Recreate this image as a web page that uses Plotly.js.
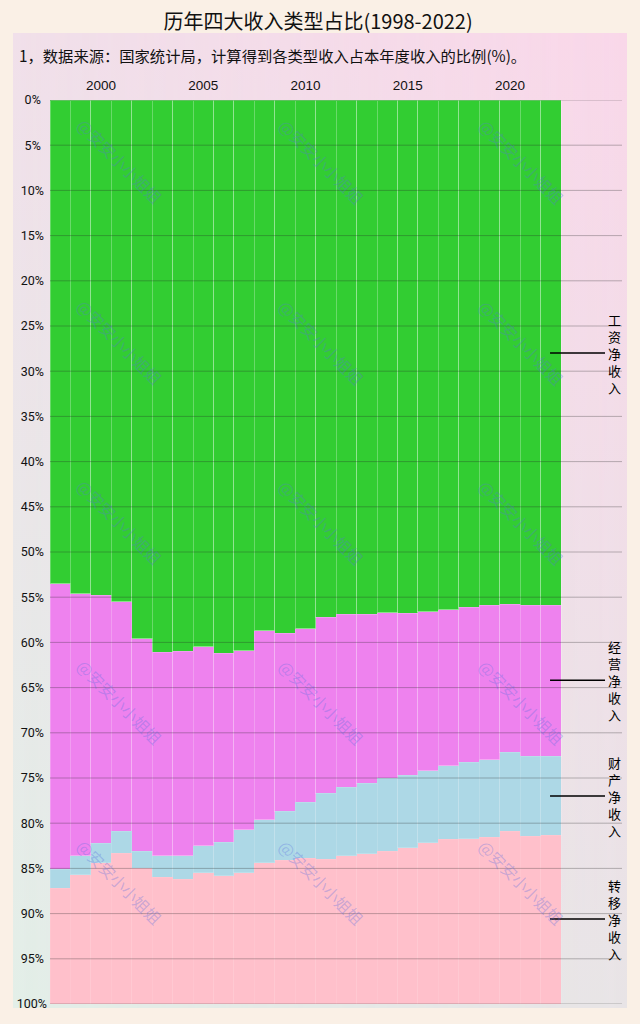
<!DOCTYPE html>
<html><head><meta charset="utf-8">
<script src="https://cdn.plot.ly/plotly-3.0.1.min.js"></script>
<style>
html,body{margin:0;padding:0;width:640px;height:1024px;overflow:hidden;background:#faf0e6;}
#p1,#p2{position:absolute;left:13px;top:33px;width:614px;height:975px;}
#p1{background:linear-gradient(to bottom,#f1e0ea,#e3efe8);}
#p2{background:linear-gradient(to bottom,#f9d7e9,#e8e4e6);-webkit-mask-image:linear-gradient(to right,transparent,#000);mask-image:linear-gradient(to right,transparent,#000);}
#chart{position:absolute;left:0;top:0;width:640px;height:1024px;}
</style></head><body>
<div id="p1"></div><div id="p2"></div><div id="chart"></div>
<script>
var years=[1998,1999,2000,2001,2002,2003,2004,2005,2006,2007,2008,2009,2010,2011,2012,2013,2014,2015,2016,2017,2018,2019,2020,2021,2022];
var wage=[53.5,54.6,54.8,55.5,59.6,61.1,61.0,60.5,61.2,60.9,58.7,59.0,58.5,57.2,56.9,56.9,56.7,56.8,56.6,56.4,56.1,55.9,55.8,55.9,55.9];
var business=[31.6,29.0,27.4,25.4,23.5,22.5,22.6,22.0,20.9,19.85,20.9,19.7,19.2,19.5,19.1,18.7,18.3,17.9,17.6,17.25,17.15,17.1,16.35,16.7,16.7];
var property=[2.1,2.1,2.2,2.4,1.9,2.4,2.6,3.0,3.7,4.75,4.8,5.4,6.2,7.3,7.6,7.8,8.1,8.0,7.95,8.15,8.45,8.55,8.75,8.85,8.75];
var transfer=[12.8,14.3,15.6,16.7,15.0,14.0,13.8,14.5,14.2,14.5,15.6,15.9,16.1,16.0,16.4,16.6,16.9,17.3,17.85,18.2,18.3,18.45,19.1,18.55,18.65];
var seriesNames=['工资净收入','经营净收入','财产净收入','转移净收入'];
var seriesColors=['#32cd32','#ee82ee','#add8e6','#ffc0cb'];
var edgeColors=['rgba(255,255,255,0.27)','rgba(255,255,255,0.22)','rgba(255,255,255,0.14)','rgba(255,255,255,0.08)'];
var seriesValues=[wage,business,property,transfer];
var yTicks=[0,5,10,15,20,25,30,35,40,45,50,55,60,65,70,75,80,85,90,95,100];
var xTicks=[2000,2005,2010,2015,2020];
var labelY=[28,64.2,77,90.6];
var title='历年四大收入类型占比(1998-2022)';
var note='1，数据来源：国家统计局，计算得到各类型收入占本年度收入的比例(%)。';
var mark='@安安小小姐姐';
var markX=[2000.92,2010.76,2020.54];
var markY=[6.8,26.8,46.7,66.6,86.5];

var CJK='"Noto Sans CJK SC","Noto Sans",sans-serif';
var pad=function(v){return v<10?'\u00a0\u00a0':(v<100?'\u00a0':'');};
var traces=seriesNames.map(function(n,i){return {
  type:'bar',name:n,x:years,y:seriesValues[i],width:1,
  marker:{color:seriesColors[i],line:{color:edgeColors[i],width:1}},
  hoverinfo:'skip'
};});
var shapes=yTicks.map(function(v){return {type:'line',layer:'above',xref:'x',yref:'y',x0:1997.5,x1:2025.48,y0:v,y1:v,
  line:{color:'rgba(40,40,40,0.3)',width:1}};});
var ann=[];
markY.forEach(function(my){markX.forEach(function(mx){
  ann.push({xref:'x',yref:'y',x:mx,y:my,text:mark,showarrow:false,textangle:45,
    font:{family:CJK,size:16,color:'rgba(90,110,225,0.33)'}});
});});
seriesNames.forEach(function(n,i){
  shapes.push({type:'line',layer:'above',xref:'x',yref:'y',x0:2021.96,x1:2024.65,y0:labelY[i],y1:labelY[i],line:{color:'#000',width:1.5}});
  ann.push({xref:'x',yref:'y',x:2025.09,y:labelY[i],xanchor:'center',yanchor:'middle',showarrow:false,
    text:n.split('').join('<br>'),
    font:{family:CJK,size:13,color:'#000'}});
});
ann.push({xref:'paper',yref:'paper',x:-0.0542,y:1.0498,xanchor:'left',yanchor:'middle',xshift:-2,showarrow:false,text:note,
  font:{family:CJK,size:15.3,color:'#111'}});
var layout={
  width:640,height:1024,margin:{l:50,r:18,t:100,b:20,pad:0},
  paper_bgcolor:'rgba(0,0,0,0)',plot_bgcolor:'rgba(0,0,0,0)',
  barmode:'stack',bargap:0,showlegend:false,
  title:{text:title,x:0.497,y:0.9785,xanchor:'center',yanchor:'middle',font:{family:CJK,size:20,color:'#111'}},
  xaxis:{range:[1997.5,2025.48],side:'top',tickmode:'array',tickvals:xTicks,ticktext:xTicks.map(String),
    showgrid:false,zeroline:false,showline:false,ticks:'',ticklen:0,ticklabelstandoff:6,
    tickfont:{family:'"Liberation Sans",Arial,sans-serif',size:13.5,color:'#111'}},
  yaxis:{range:[100,0],tickmode:'array',tickvals:yTicks,ticktext:yTicks.map(function(v){return v+'%'+pad(v);}),
    showgrid:false,zeroline:false,showline:false,ticks:'',ticklen:0,ticklabelstandoff:2,
    tickfont:{family:'"Liberation Sans Narrow",Roboto,sans-serif',size:12.5,color:'#111'}},
  shapes:shapes,annotations:ann
};
Plotly.newPlot('chart',traces,layout,{displayModeBar:false,staticPlot:true});
</script></body></html>
